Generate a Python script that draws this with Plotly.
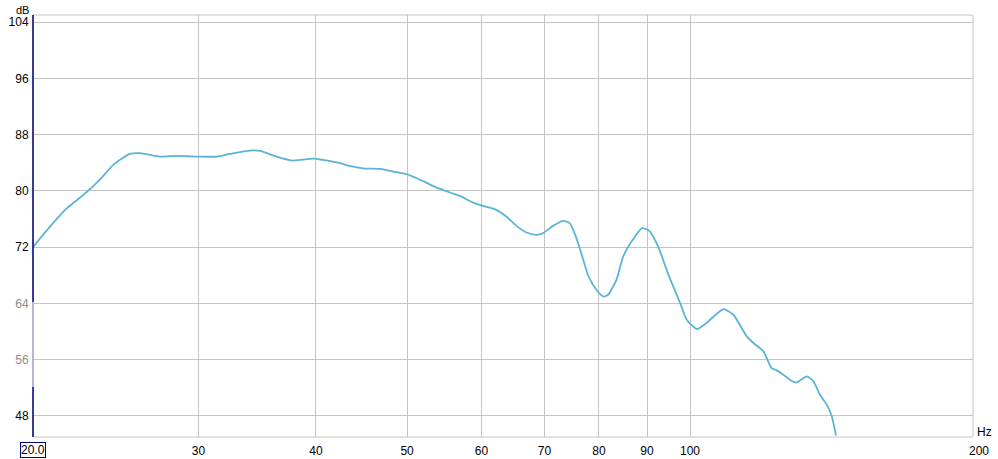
import plotly.graph_objects as go

freq_hz = [20.0, 20.85, 21.72, 22.62, 23.56, 24.35, 25.36, 26.0, 27.3, 28.45, 29.87, 31.36, 32.41,
           34.03, 34.87, 36.3, 37.84, 39.73, 40.7, 42.43, 43.43, 44.87, 46.8, 48.34, 49.94, 51.64,
           53.77, 55.55, 56.91, 58.78, 60.23, 62.21, 63.77, 65.36, 67.0, 68.67, 69.78, 71.5, 73.3,
           74.47, 75.6, 76.8, 78.0, 79.5, 80.86, 81.8, 83.5, 84.9, 86.9, 88.9, 90.4, 92.5, 94.7,
           97.6, 99.2, 101.7, 104.1, 108.5, 111.2, 114.9, 116.8, 119.7, 122.1, 123.7, 125.7, 127.7,
           129.8, 133.1, 135.3, 137.5, 139.8, 141.5, 143.0]
level_db = [72.0, 74.9, 77.5, 79.4, 81.6, 83.7, 85.25, 85.35, 84.87, 84.97, 84.87, 84.87, 85.25,
            85.72, 85.68, 84.87, 84.3, 84.59, 84.4, 83.93, 83.55, 83.2, 83.12, 82.74, 82.37, 81.56,
            80.46, 79.76, 79.28, 78.33, 77.86, 77.3, 76.34, 75.02, 74.07, 73.74, 73.98, 75.02, 75.73,
            75.4, 73.5, 70.66, 67.82, 65.93, 64.98, 65.22, 67.35, 70.66, 73.03, 74.7, 74.36, 72.08, 68.3,
            64.04, 61.67, 60.35, 61.2, 63.19, 62.38, 59.3, 58.36, 57.17, 54.8, 54.47, 53.86, 53.15,
            52.76, 53.62, 52.9, 51.0, 49.6, 47.94, 45.2]

x_tick_vals = [30, 40, 50, 60, 70, 80, 90, 100]
x_tick_text = ["30", "40", "50", "60", "70", "80", "90", "100"]
y_tick_vals = [48, 56, 64, 72, 80, 88, 96, 104]
y_tick_text = ["48", "<span style='color:#8c8c8c'>56</span>", "<span style='color:#8c8c8c'>64</span>",
               "72", "80", "88", "96", "104"]

X_MIN, X_MAX = 20, 200
Y_MIN, Y_MAX = 45, 105
GRID = "#c4c4c4"
NAVY = "#000080"
FONT = "Liberation Sans, Arial, sans-serif"

fig = go.Figure()
fig.add_trace(go.Scatter(x=freq_hz, y=level_db, mode="lines",
                         line=dict(color="#5ab4d8", width=1.8, shape="spline", smoothing=0.6),
                         hoverinfo="x+y", showlegend=False))

fig.update_layout(
    width=998, height=459,
    margin=dict(l=33, r=25, t=15, b=22),
    paper_bgcolor="white", plot_bgcolor="white",
    font=dict(family=FONT, size=12, color="black"),
    xaxis=dict(type="log", range=[1.30103, 2.30103], tickvals=x_tick_vals, ticktext=x_tick_text,
               showgrid=True, gridcolor=GRID, gridwidth=1, zeroline=False, showline=False,
               automargin=False,
               ticks="outside", ticklen=3, tickcolor="rgba(0,0,0,0)",
               tickfont=dict(size=12, color="black", family=FONT)),
    yaxis=dict(range=[Y_MIN, Y_MAX], tickvals=y_tick_vals, ticktext=y_tick_text,
               showgrid=True, gridcolor=GRID, gridwidth=1, zeroline=False, showline=False,
               automargin=False,
               ticks="outside", ticklen=1, tickcolor="rgba(0,0,0,0)",
               tickfont=dict(size=12, color="black", family=FONT)),
    shapes=[
        dict(type="rect", xref="paper", yref="paper", x0=0, x1=1, y0=0, y1=1,
             line=dict(color=GRID, width=1), fillcolor="rgba(0,0,0,0)", layer="above"),
        dict(type="line", xref="paper", yref="y", x0=0, x1=0, y0=64.2, y1=Y_MAX,
             line=dict(color=NAVY, width=1.5), layer="above"),
        dict(type="line", xref="paper", yref="y", x0=0, x1=0, y0=52.1, y1=64.2,
             line=dict(color="#9a9ac4", width=1.2), layer="above"),
        dict(type="line", xref="paper", yref="y", x0=0, x1=0, y0=Y_MIN, y1=52.1,
             line=dict(color=NAVY, width=1.5), layer="above"),
    ],
    annotations=[
        dict(text="dB", xref="paper", yref="paper", x=-0.002, y=1.0, xanchor="right", yanchor="bottom",
             showarrow=False, font=dict(size=11, family=FONT, color="black"), yshift=-3),
        dict(text="20.0", xref="paper", yref="paper", x=0, y=0, xanchor="center", yanchor="top",
             showarrow=False, font=dict(size=12, family=FONT, color="black"),
             bordercolor=NAVY, borderwidth=1, borderpad=0, bgcolor="white", yshift=-5),
        dict(text="Hz", xref="paper", yref="paper", x=1.0, y=0, xanchor="left", yanchor="middle",
             showarrow=False, font=dict(size=12, family=FONT, color="black"), xshift=2, yshift=5),
        dict(text="200", xref="paper", yref="paper", x=1.0, y=0, xanchor="left", yanchor="top",
             showarrow=False, font=dict(size=12, family=FONT, color="black"), xshift=-6, yshift=-5),
    ],
)

fig.write_html("out.html", config={"displayModeBar": False},
               post_script="document.body.style.margin='0';")
